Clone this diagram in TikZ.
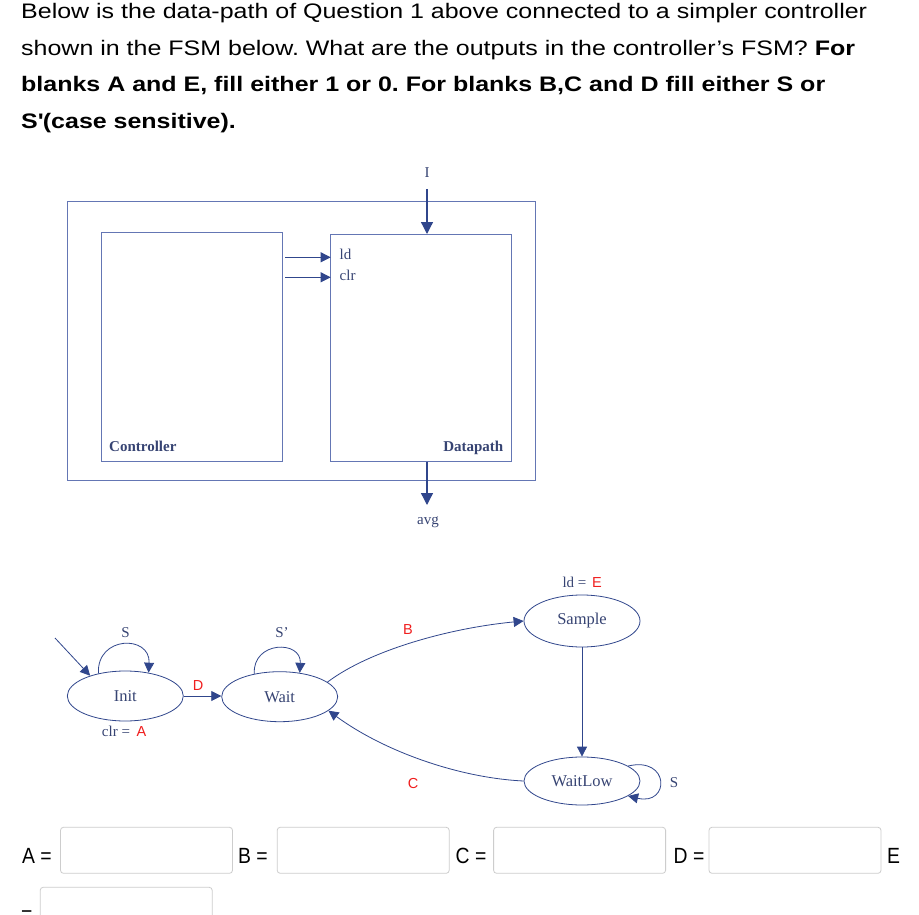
\documentclass[tikz,border=0pt]{standalone}
\usepackage{fontspec}
\setmainfont{Liberation Serif}
\newfontfamily\qsans{Liberation Sans}
\newfontfamily\qwide{Liberation Sans}[FakeStretch=1.19]
\newfontfamily\qnarrow{Liberation Sans}[FakeStretch=0.88]
\usetikzlibrary{arrows.meta,shapes.geometric}
\definecolor{dblue}{RGB}{48,70,140}
\definecolor{tblue}{RGB}{55,68,115}
\definecolor{lblue}{RGB}{100,118,180}
\definecolor{qred}{RGB}{240,30,30}
\definecolor{boxgray}{RGB}{205,205,205}
\frenchspacing
\begin{document}
\begin{tikzpicture}[x=1pt,y=-1pt,
  qline/.style={font=\qwide\fontsize{21}{24}\selectfont, anchor=base west, inner sep=0pt},
  blk/.style={draw=lblue, line width=1pt, inner sep=0pt, outer sep=0pt},
  sig/.style={draw=dblue, line width=0.8pt, -{Triangle[length=10pt,width=10pt]}},
  bigsig/.style={draw=dblue, line width=1.3pt, -{Triangle[length=12pt,width=12pt]}},
  st/.style={draw=dblue, line width=0.8pt, ellipse, minimum width=116pt, minimum height=50pt, inner sep=0pt, font=\fontsize{16.5}{19}\selectfont, text=tblue},
  dlab/.style={font=\fontsize{15}{17}\selectfont, text=tblue, inner sep=0pt},
  rlab/.style={font=\qsans\fontsize{14.5}{16}\selectfont, text=qred, inner sep=0pt},
  ansbox/.style={draw=boxgray, line width=0.8pt, rounded corners=3pt, minimum width=172pt, minimum height=46pt, inner sep=0pt},
  anslab/.style={font=\qnarrow\fontsize{22}{24}\selectfont, anchor=base west, inner sep=0pt}
]
\clip (0,0) rectangle (919,915);
\useasboundingbox (0,0) rectangle (919,915);
\fill[white] (0,0) rectangle (919,915);

% question text
\node[qline] (q1) at (21,19) {Below is the data-path of Question 1 above connected to a simpler controller};
\node[qline] (q2) at (21,55.5) {shown in the FSM below. What are the outputs in the controller’s FSM? \textbf{For}};
\node[qline] (q3) at (21,92) {\textbf{blanks A and E, fill either 1 or 0. For blanks B,C and D fill either S or}};
\node[qline] (q4) at (21,128.5) {\textbf{S\textquotesingle(case sensitive).}};

% block diagram
\node[blk, minimum width=468pt, minimum height=279pt] (outer) at (301.75,341) {};
\node[blk, minimum width=180.7pt, minimum height=229.4pt] (ctrl) at (191.65,347) {};
\node[blk, minimum width=180.3pt, minimum height=227.7pt] (dp) at (420.85,347.85) {};
\node[dlab, font=\bfseries\fontsize{15}{17}\selectfont, anchor=base west] (ctrllbl) at (109,451.7) {Controller};
\node[dlab, font=\bfseries\fontsize{15}{17}\selectfont, anchor=base east] (dplbl) at (503.5,451.7) {Datapath};
\node[dlab, anchor=west] (ldlbl) at (339.5,254.5) {ld};
\node[dlab, anchor=west] (clrlbl) at (339.5,275) {clr};
\coordinate (ldS) at (285,257.3);
\coordinate (clrS) at (285,277.3);
\draw[sig] (ldS) -- (ldS -| dp.west);
\draw[sig] (clrS) -- (clrS -| dp.west);
\node[dlab] (Ilbl) at (427,173) {I};
\coordinate (Itop) at (427,189);
\draw[bigsig] (Itop) -- (Itop |- dp.north);
\coordinate (avgend) at (427,505);
\draw[bigsig] (avgend |- dp.south) -- (avgend);
\node[dlab] (avglbl) at (428,522) {avg};

% FSM
\node[st] (init) at (125.3,696) {Init};
\node[st] (wait) at (279.7,696.7) {Wait};
\node[st, minimum height=52pt] (sample) at (582,621) {Sample};
\node[st, minimum height=48pt] (waitlow) at (582,781) {WaitLow};

\coordinate (start) at (55,638);
\draw[sig] (start) -- (init.150);
\draw[sig] (init.140) .. controls +(-2,-38) and +(2,-38) .. (init.45);
\node[dlab] (sInit) at (125.5,633) {S};
\draw[sig] (wait.138) .. controls +(-2,-33) and +(2,-33) .. (wait.50);
\node[dlab] (sWait) at (282,633) {S’};
\draw[sig] (init.east) -- (init.east -| wait.west);
\node[rlab] (Dlbl) at (198,686) {D};
\node[dlab, anchor=base] (clrA) at (116,736) {clr =};
\node[rlab, anchor=base west] (Albl) at (136.5,736) {A};

\draw[sig] (wait.17) .. controls (370,650) and (450,628) .. (sample.west);
\node[rlab] (Blbl) at (408,630) {B};
\draw[sig] (waitlow.west) .. controls (460,778) and (385,752) .. (wait.-16);
\node[rlab] (Clbl) at (413,784) {C};
\draw[sig] (sample.south) -- (waitlow.north);
\draw[sig] (waitlow.18) .. controls +(42,-10) and +(42,10) .. (waitlow.-18);
\node[dlab] (sLow) at (674,783) {S};
\node[dlab, anchor=base] (ldE) at (574.5,587) {ld =};
\node[rlab, anchor=base west] (Elbl) at (592,587) {E};

% answer boxes
\node[anslab] (la) at (22,863) {A =};
\node[ansbox] (ba) at (146.5,850.3) {};
\node[anslab] (lb) at (238,863) {B =};
\node[ansbox] (bb) at (363.2,850.3) {};
\node[anslab] (lc) at (455.5,863) {C =};
\node[ansbox] (bc) at (579.6,850.3) {};
\node[anslab] (ld) at (673.5,863) {D =};
\node[ansbox] (bd) at (795,850.3) {};
\node[anslab] (le) at (887,863) {E};
\node[anslab] (leq) at (21,921) {=};
\node[ansbox] (be) at (126.2,910.3) {};
\end{tikzpicture}
\end{document}
